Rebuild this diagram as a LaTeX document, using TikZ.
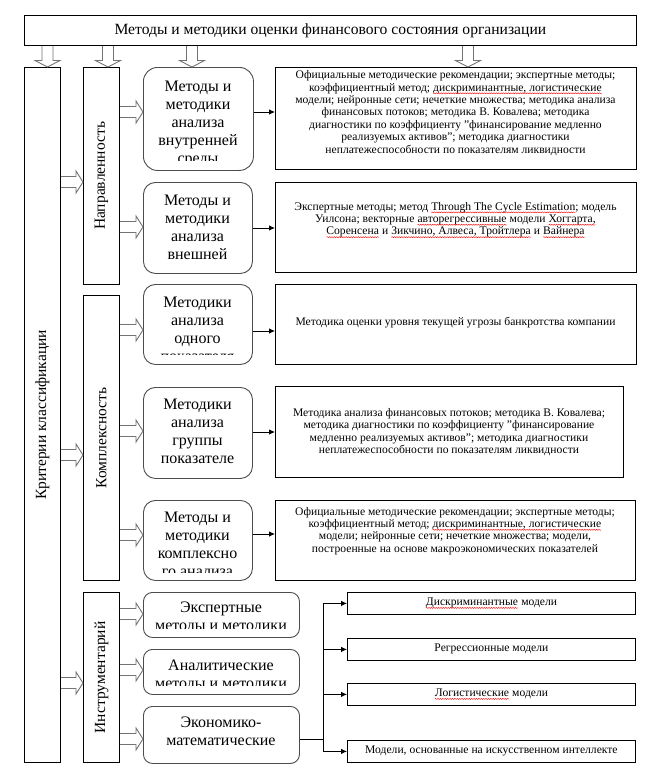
\documentclass[tikz,border=0pt]{standalone}
\usepackage{fontspec}
\setmainfont{Liberation Serif}
\usetikzlibrary{arrows.meta,calc,decorations.pathmorphing}
\definecolor{arrgray}{gray}{0.45}
\definecolor{boxgray}{gray}{0.3}
\newcommand\redwave[1]{\tikz[baseline=(w.base)]{\node[inner sep=0pt,outer sep=0pt,minimum width=0pt,minimum height=0pt,draw=none,fill=none,anchor=base,rotate=0](w) at (0,0) {#1};
  \draw[red, line width=0.4pt, decorate, decoration={snake, amplitude=0.55pt, segment length=2.4pt}] ([yshift=-2.2pt]w.base west) -- ([yshift=-2.2pt]w.base east);}}
% hollow block arrow downwards: #1 upper node, #2 lower node, #3 x position
\newcommand\varr[3]{%
  \fill[white] let \p1=(#1.south), \p2=(#2.north), \p3=(#3,0) in
    (\x3-5.5pt,\y1-0.45pt) -- (\x3-5.5pt,\y2+6.5pt) -- (\x3-12.5pt,\y2+6.5pt) -- (\x3,\y2)
    -- (\x3+12.5pt,\y2+6.5pt) -- (\x3+5.5pt,\y2+6.5pt) -- (\x3+5.5pt,\y1-0.45pt) -- cycle;
  \draw[hollowline] let \p1=(#1.south), \p2=(#2.north), \p3=(#3,0) in
    (\x3-5.5pt,\y1) -- (\x3-5.5pt,\y2+6.5pt) -- (\x3-12.5pt,\y2+6.5pt) -- (\x3,\y2)
    -- (\x3+12.5pt,\y2+6.5pt) -- (\x3+5.5pt,\y2+6.5pt) -- (\x3+5.5pt,\y1);}
% hollow block arrow to the right: #1 left node, #2 right node, #3 y position
\newcommand\harr[3]{%
  \fill[white] let \p1=(#1.east), \p2=(#2.west), \p3=(0,#3) in
    (\x1+0.45pt,\y3+5.5pt) -- (\x2-7pt,\y3+5.5pt) -- (\x2-7pt,\y3+11pt) -- (\x2,\y3)
    -- (\x2-7pt,\y3-11pt) -- (\x2-7pt,\y3-5.5pt) -- (\x1+0.45pt,\y3-5.5pt) -- cycle;
  \draw[hollowline] let \p1=(#1.east), \p2=(#2.west), \p3=(0,#3) in
    (\x1,\y3+5.5pt) -- (\x2-7pt,\y3+5.5pt) -- (\x2-7pt,\y3+11pt) -- (\x2,\y3)
    -- (\x2-7pt,\y3-11pt) -- (\x2-7pt,\y3-5.5pt) -- (\x1,\y3-5.5pt);}
\begin{document}
\begin{tikzpicture}[x=1pt,y=-1pt,
  tbox/.style={draw=black, line width=0.8pt, inner sep=0pt, anchor=north west},
  rbox/.style={draw=boxgray, line width=0.9pt, rounded corners=12pt, inner sep=0pt, anchor=north west},
  ebox/.style={draw=boxgray, line width=0.9pt, rounded corners=9pt, inner sep=0pt, anchor=north west},
  small/.style={font=\fontsize{11.6}{12.4}\selectfont, align=center, inner sep=0pt},
  big/.style={font=\fontsize{16}{18}\selectfont, align=center, inner sep=0pt, anchor=north},
  vert/.style={font=\fontsize{15.5}{18}\selectfont, rotate=90, inner sep=0pt},
  hollowline/.style={draw=arrgray, line width=0.9pt, line join=miter},
  arr/.style={-{Latex[length=6pt,width=5.5pt]}, line width=0.8pt},
  conn/.style={line width=0.8pt}]
\useasboundingbox (0,0) rectangle (659,779);
\fill[white] (0,0) rectangle (659,779);

% title
\node[tbox, minimum width=612pt, minimum height=30pt, font=\fontsize{15.6}{18}\selectfont] (title) at (24,15) {Методы и методики оценки финансового состояния организации};

% columns
\node[tbox, minimum width=36pt, minimum height=695pt] (crit) at (24,67) {};
\node[tbox, minimum width=36pt, minimum height=217pt] (dir) at (83,67) {};
\node[tbox, minimum width=36pt, minimum height=285pt] (cmp) at (83,295) {};
\node[tbox, minimum width=36pt, minimum height=170pt] (ins) at (83,592) {};
\node[vert] (critl) at (crit.center) {Критерии классификации};
\node[vert] (dirl) at (dir.center) {Направленность};
\node[vert] (cmpl) at (cmp.center) {Комплексность};
\node[vert] (insl) at (ins.center) {Инструментарий};

% rounded boxes
\node[rbox, minimum width=110pt, minimum height=103pt, rounded corners=14pt] (m1) at (143,67) {};
\node[rbox, minimum width=109pt, minimum height=91pt] (m2) at (143,182) {};
\node[rbox, minimum width=109pt, minimum height=80pt] (m3) at (143,284) {};
\node[rbox, minimum width=109pt, minimum height=91pt] (m4) at (143,387) {};
\node[rbox, minimum width=109pt, minimum height=80pt] (m5) at (143,500) {};
\node[ebox, minimum width=156pt, minimum height=45pt] (e1) at (143,592) {};
\node[ebox, minimum width=156pt, minimum height=45pt] (e2) at (143,649) {};
\node[ebox, minimum width=156pt, minimum height=57pt] (e3) at (143,706) {};

\begin{scope}
  \clip (143,67) rectangle (253,160);
  \node[big] (m1t) at (198,81) {Методы и\\методики\\анализа\\внутренней\\среды};
\end{scope}
\node[big] (m2t) at (197.5,195) {Методы и\\методики\\анализа\\внешней};
\begin{scope}
  \clip (143,284) rectangle (252,354);
  \node[big] (m3t) at (197.5,297) {Методики\\анализа\\одного\\показателя};
\end{scope}
\node[big] (m4t) at (197.5,399) {Методики\\анализа\\группы\\показателе};
\begin{scope}
  \clip (143,500) rectangle (252,572);
  \node[big] (m5t) at (197.5,512) {Методы и\\методики\\комплексно\\го анализа};
\end{scope}
\begin{scope}
  \clip (143,592) rectangle (299,628);
  \node[big] (e1t) at (221,602) {Экспертные\\методы и методики};
\end{scope}
\begin{scope}
  \clip (143,649) rectangle (299,685);
  \node[big] (e2t) at (221,660) {Аналитические\\методы и методики};
\end{scope}
\node[big] (e3t) at (221,717) {Экономико-\\математические};

% text boxes
\node[tbox, minimum width=361pt, minimum height=102pt] (t1) at (275,67) {};
\node[tbox, minimum width=361pt, minimum height=90pt] (t2) at (275,182) {};
\node[tbox, minimum width=361pt, minimum height=80pt] (t3) at (275,284) {};
\node[tbox, minimum width=348pt, minimum height=91pt] (t4) at (275,386) {};
\node[tbox, minimum width=360pt, minimum height=80pt] (t5) at (275,500) {};

\node[small] (t1t) at (455.5,113) {Официальные методические рекомендации; экспертные методы;\\
коэффициентный метод; \redwave{дискриминантные, логистические}\\
модели; нейронные сети; нечеткие множества; методика анализа\\
финансовых потоков; методика В. Ковалева; методика\\
диагностики по коэффициенту "финансирование медленно\\
реализуемых активов"; методика диагностики\\
неплатежеспособности по показателям ликвидности};
\node[small] (t2t) at (455.5,220) {Экспертные методы; метод \redwave{Through The Cycle Estimation}; модель\\
Уилсона; векторные \redwave{авторегрессивные} модели \redwave{Хоггарта,}\\
\redwave{Соренсена} и \redwave{Зикчино, Алвеса, Тройтлера} и \redwave{Вайнера}};
\node[small] (t3t) at (455.5,323) {Методика оценки уровня текущей угрозы банкротства компании};
\node[small] (t4t) at (449,432) {Методика анализа финансовых потоков; методика В. Ковалева;\\
методика диагностики по коэффициенту "финансирование\\
медленно реализуемых активов"; методика диагностики\\
неплатежеспособности по показателям ликвидности};
\node[small] (t5t) at (455,531) {Официальные методические рекомендации; экспертные методы;\\
коэффициентный метод; \redwave{дискриминантные, логистические}\\
модели; нейронные сети; нечеткие множества; модели,\\
построенные на основе макроэкономических показателей};

% model boxes
\node[tbox, minimum width=288pt, minimum height=22pt] (d1) at (347,592) {};
\node[tbox, minimum width=288pt, minimum height=22pt] (d2) at (347,638) {};
\node[tbox, minimum width=288pt, minimum height=22pt] (d3) at (347,683) {};
\node[tbox, minimum width=288pt, minimum height=22pt] (d4) at (347,740) {};
\node[small] (d1t) at (d1.center) {\redwave{Дискриминантные} модели};
\node[small] (d2t) at (d2.center) {Регрессионные модели};
\node[small] (d3t) at (d3.center) {\redwave{Логистические} модели};
\node[small] (d4t) at (d4.center) {Модели, основанные на искусственном интеллекте};

% hollow arrows from title
\varr{title}{crit}{47.5}
\varr{title}{dir}{108}
\varr{title}{m1}{192}
\varr{title}{t1}{468}

% hollow arrows from criteria column
\harr{crit}{dir}{182}
\harr{crit}{cmp}{455}
\harr{crit}{ins}{683}

% hollow arrows to rounded boxes
\harr{dir}{m1}{112}
\harr{dir}{m2}{227}
\harr{cmp}{m3}{330}
\harr{cmp}{m4}{431}
\harr{cmp}{m5}{535}
\harr{ins}{e1}{614}
\harr{ins}{e2}{670}
\harr{ins}{e3}{739}

% connectors to text boxes
\draw[arr] (m1.east |- 0,112) -- (t1.west |- 0,112);
\draw[arr] (m2.east |- 0,228) -- (t2.west |- 0,228);
\draw[arr] (m3.east |- 0,331) -- (t3.west |- 0,331);
\draw[arr] (m4.east |- 0,432) -- (t4.west |- 0,432);
\draw[arr] (m5.east |- 0,534) -- (t5.west |- 0,534);

% tree to model boxes
\coordinate (jn) at (323,739);
\draw[conn] (e3.east |- jn) -- (jn);
\draw[conn] (jn |- d1.west) -- (jn |- d4.west);
\draw[arr] (jn |- d1.west) -- (d1.west);
\draw[arr] (jn |- d2.west) -- (d2.west);
\draw[arr] (jn |- d3.west) -- (d3.west);
\draw[arr] (jn |- d4.west) -- (d4.west);
\end{tikzpicture}
\end{document}
